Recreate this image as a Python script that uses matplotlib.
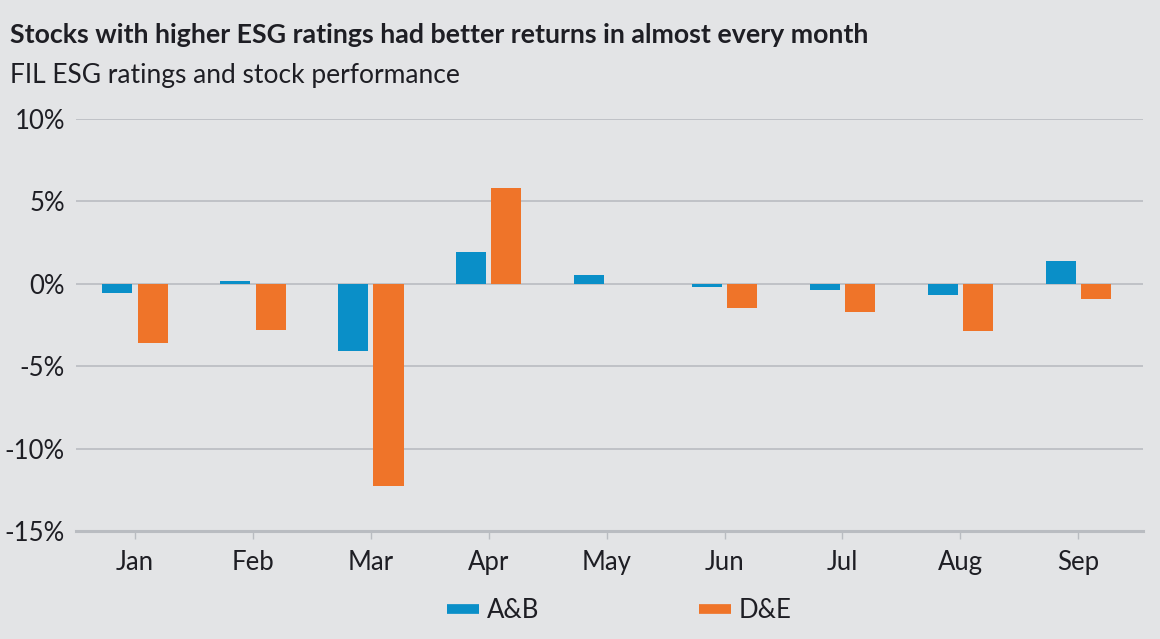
import matplotlib.pyplot as plt
import numpy as np
from matplotlib.lines import Line2D

months = ['Jan', 'Feb', 'Mar', 'Apr', 'May', 'Jun', 'Jul', 'Aug', 'Sep']
ab_returns = [-0.55, 0.15, -4.1, 1.9, 0.5, -0.2, -0.4, -0.7, 1.4]
de_returns = [-3.6, -2.8, -12.25, 5.8, 0.0, -1.45, -1.7, -2.85, -0.9]
y_ticks = [-15, -10, -5, 0, 5, 10]

blue = '#0a8fc8'
orange = '#ef7429'
bg = '#e3e4e6'
grid_col = '#b9bcc1'
text_col = '#1e1e24'

plt.rcParams['font.family'] = ['Lato', 'DejaVu Sans']

fig = plt.figure(figsize=(11.6, 6.39), dpi=100, facecolor=bg)
ax = fig.add_axes([0.0655, 0.169, 0.92, 0.645], facecolor=bg)

x = np.arange(len(months))
w = 0.255
ax.bar(x - 0.15, ab_returns, width=w, color=blue, zorder=3)
ax.bar(x + 0.15, de_returns, width=w, color=orange, zorder=3)

ax.set_xlim(-0.5, 8.55)
ax.set_ylim(-15, 10)
ax.set_yticks(y_ticks)
ax.set_yticklabels([f'{v}%' for v in y_ticks])
ax.yaxis.grid(True, color=grid_col, linewidth=1.2, zorder=0)
ax.set_axisbelow(True)

for s in ['top', 'right', 'left']:
    ax.spines[s].set_visible(False)
ax.spines['bottom'].set_color(grid_col)
ax.spines['bottom'].set_linewidth(2.2)

ax.set_xticks(x)
ax.set_xticklabels(months)
ax.tick_params(axis='x', length=6, width=1, color=grid_col, labelsize=18.5,
               labelcolor=text_col, pad=8)
ax.tick_params(axis='y', length=0, labelsize=18.5, labelcolor=text_col, pad=8)

fig.text(0.009, 0.945, 'Stocks with higher ESG ratings had better returns in almost every month',
         fontsize=19.3, fontweight='bold', color=text_col, va='center')
fig.text(0.009, 0.882, 'FIL ESG ratings and stock performance',
         fontsize=19, color=text_col, va='center')

handles = [Line2D([0], [0], color=blue, lw=7, solid_capstyle='butt'),
           Line2D([0], [0], color=orange, lw=7, solid_capstyle='butt')]
fig.legend(handles, ['A&B', 'D&E'], loc='center', bbox_to_anchor=(0.534, 0.045),
           ncol=2, frameon=False, fontsize=18.5, handlelength=1.25,
           handletextpad=0.3, columnspacing=6.2, labelcolor=text_col)

fig.savefig('out.png', dpi=100, facecolor=bg)
